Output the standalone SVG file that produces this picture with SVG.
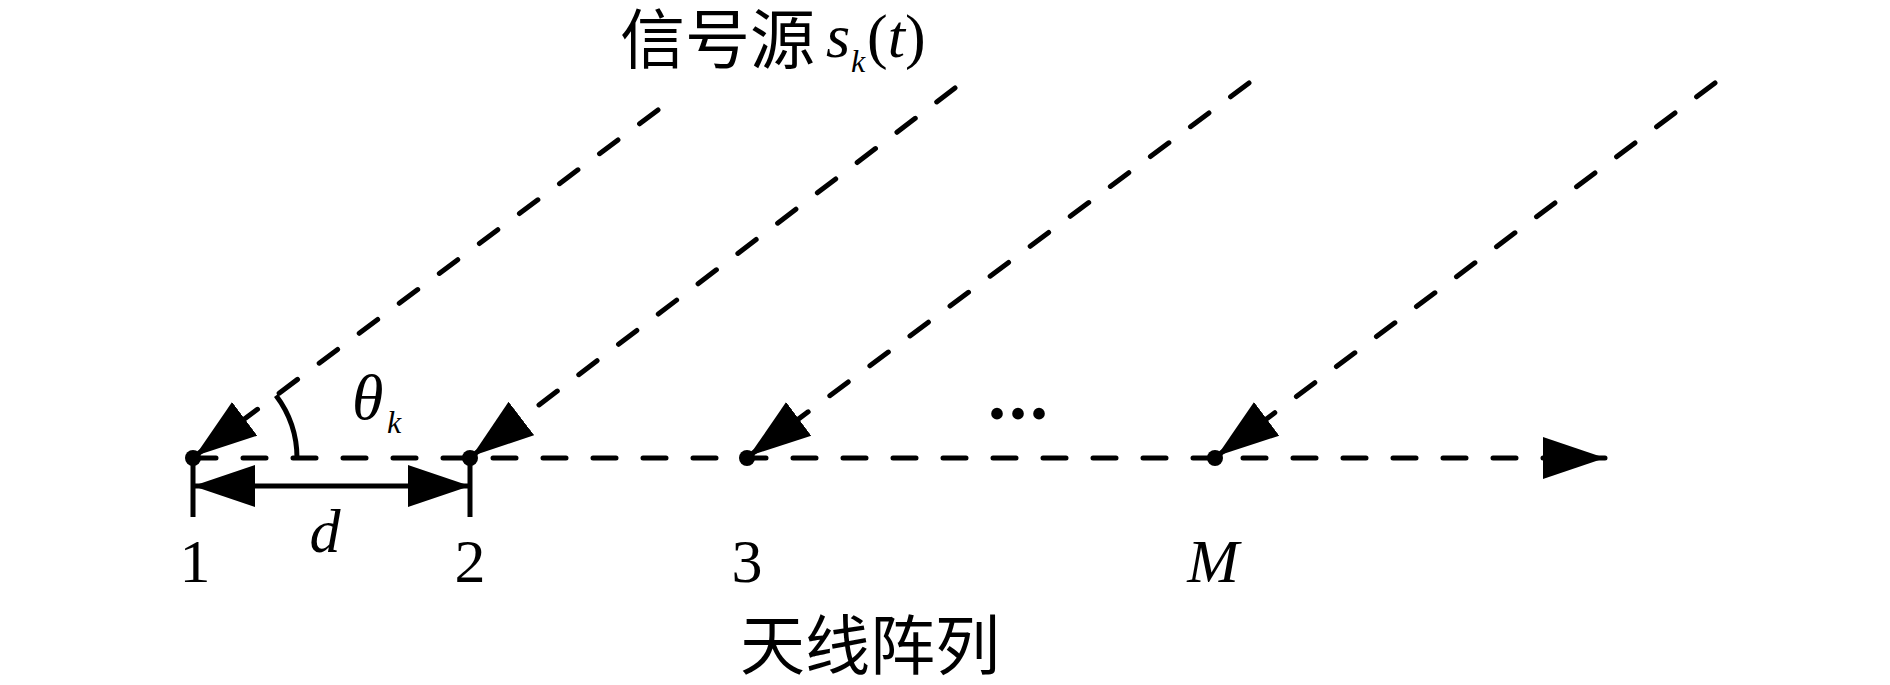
<svg xmlns="http://www.w3.org/2000/svg" width="1890" height="685" viewBox="0 0 1890 685">
<style>
.dash{fill:none;stroke:#000;stroke-width:5;stroke-linecap:round;stroke-dasharray:23 27}
.solid{fill:none;stroke:#000;stroke-width:5}
.num{font-family:"Liberation Serif",serif;font-size:62px;fill:#000;text-anchor:middle}
.it{font-family:"Liberation Serif",serif;font-style:italic;fill:#000}
</style>
<defs>
<marker id="ah" markerUnits="userSpaceOnUse" markerWidth="64" markerHeight="44" viewBox="0 -22 64 44" refX="62" refY="0" orient="auto-start-reverse">
<path d="M0,-21 L62,0 L0,21 z" fill="#000"/>
</marker>
</defs>
<g id="connectors">
<line class="dash" x1="193" y1="458" x2="1605" y2="458" marker-end="url(#ah)"/>
<line class="dash" x1="658" y1="110" x2="195" y2="456" marker-end="url(#ah)"/>
<line class="dash" x1="955" y1="88" x2="472" y2="456" marker-end="url(#ah)"/>
<line class="dash" x1="1249" y1="83" x2="749" y2="456" marker-end="url(#ah)"/>
<line class="dash" x1="1715" y1="83" x2="1217" y2="456" marker-end="url(#ah)"/>
<line class="solid" x1="193" y1="486" x2="470" y2="486" marker-start="url(#ah)" marker-end="url(#ah)"/>
<line class="solid" x1="193" y1="458" x2="193" y2="517"/>
<line class="solid" x1="470" y1="458" x2="470" y2="517"/>
<path class="solid" stroke-width="4" d="M297,458 A104,104 0 0 0 276,395.4"/>
</g>
<g id="node-1">
<circle cx="193" cy="458" r="8"/>
<text class="num" x="195" y="582">1</text>
</g>
<g id="node-2">
<circle cx="470" cy="458" r="8"/>
<text class="num" x="470" y="582">2</text>
</g>
<g id="node-3">
<circle cx="747" cy="458" r="8"/>
<text class="num" x="747" y="582">3</text>
</g>
<g id="node-M">
<circle cx="1215" cy="458" r="8"/>
<text class="it" font-size="62" x="1213" y="582" text-anchor="middle">M</text>
</g>
<g id="label-d">
<text class="it" font-size="62" x="325" y="552" text-anchor="middle">d</text>
</g>
<g id="label-theta">
<text class="it" font-size="64" x="352" y="419">θ</text>
<text class="it" font-size="32" x="387" y="433">k</text>
</g>
<g id="label-dots">
<text font-family="Liberation Serif,serif" font-weight="bold" font-size="72" letter-spacing="3" x="988" y="419">...</text>
</g>
<g id="label-source">
<text font-family="'Noto Sans CJK SC',sans-serif" font-size="65" x="620" y="63">信号源</text>
<text class="it" font-size="62" x="826" y="57">s</text>
<text class="it" font-size="32" x="851" y="72">k</text>
<text font-family="Liberation Serif,serif" font-size="62" x="867" y="57">(<tspan font-style="italic">t</tspan>)</text>
</g>
<g id="label-array">
<text font-family="'Noto Sans CJK SC',sans-serif" font-size="65" x="740" y="669">天线阵列</text>
</g>
</svg>
